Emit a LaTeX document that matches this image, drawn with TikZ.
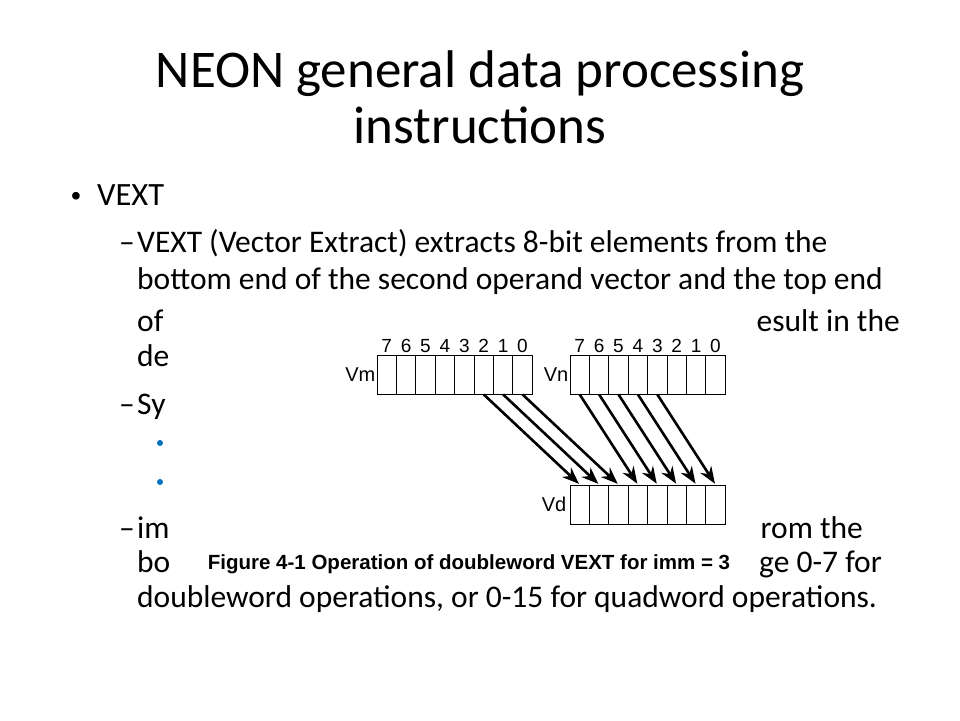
\documentclass[tikz,border=0pt]{standalone}
\usepackage{fontspec}
\setmainfont{Carlito}
\newfontfamily\figfont{Liberation Sans}
\usetikzlibrary{positioning,arrows.meta}
\definecolor{bulletblue}{RGB}{0,112,192}

\begin{document}
\begin{tikzpicture}[x=1pt,y=-1pt,
  titletext/.style={font=\fontsize{53}{56}\selectfont,align=center},
  bodytext/.style={font=\fontsize{31.5}{34}\selectfont,anchor=base west,inner sep=0pt},
  endtext/.style={font=\fontsize{31.5}{34}\selectfont,anchor=base east,inner sep=0pt},
  cell/.style={draw,minimum width=19.4pt,minimum height=39pt,inner sep=0pt,line width=0.9pt},
  digit/.style={font=\figfont\fontsize{19}{19}\selectfont,anchor=base,inner sep=0pt},
  reglabel/.style={font=\figfont\fontsize{20}{20}\selectfont,inner sep=0pt},
  moveto/.style={-{Stealth[length=17pt,width=13pt]},line width=2.6pt,shorten >=1pt}]

  \useasboundingbox (0,0) rectangle (960,720);

  % title
  \node[titletext] (title) at (480,97) {NEON general data processing\\instructions};

  % bullets
  \node[bodytext] (dot1) at (71,205) {\fontsize{28}{28}\selectfont\figfont •};
  \node[bodytext,font=\fontsize{32.5}{34}\selectfont] (vext) at (97,205) {VEXT};
  \node[bodytext] (dash1) at (119,252) {–};
  \node[bodytext] (l1) at (137,252) {VEXT (Vector Extract) extracts 8-bit elements from the};
  \node[bodytext] (l2) at (137,289) {bottom end of the second operand vector and the top end};
  \node[bodytext] (l3) at (137,331) {of};
  \node[endtext] (l3r) at (900,331) {\hspace*{-2pt}esult in the};
  \node[bodytext] (l4) at (137,366) {de};
  \node[bodytext] (dash2) at (119,414) {–};
  \node[bodytext] (l5) at (137,414) {Sy};
  \fill[bulletblue] (160,443) circle (3pt) (160,482) circle (3pt);
  \node[bodytext] (dash3) at (119,538) {–};
  \node[bodytext] (l6) at (137,538) {im};
  \node[endtext] (l6r) at (863,538) {rom the};
  \node[bodytext] (l7) at (137,572) {bo};
  \node[endtext] (l7r) at (882,572) {ge 0-7 for};
  \node[bodytext] (l8) at (137,607) {doubleword operations, or 0-15 for quadword operations.};

  % registers
  \foreach \i in {0,...,7} {
    \node[cell] (m\i) at ({377+(7-\i)*19.4+9.7},374.5) {};
    \node[cell] (n\i) at ({570+(7-\i)*19.4+9.7},374.5) {};
    \node[cell] (d\i) at ({570+(7-\i)*19.4+9.7},504.5) {};
    \node[digit] at ({377+(7-\i)*19.4+9.7},352) {\i};
    \node[digit] at ({570+(7-\i)*19.4+9.7},352) {\i};
  }
  \node[reglabel,left=1pt of m7] (vm) {Vm};
  \node[reglabel,left=1pt of n7] (vn) {Vn};
  \node[reglabel,left=3pt of d7] (vd) {Vd};

  % extract arrows
  \draw[moveto] (m2.south) -- (d7.north);
  \draw[moveto] (m1.south) -- (d6.north);
  \draw[moveto] (m0.south) -- (d5.north);
  \foreach \s/\t in {7/4,6/3,5/2,4/1,3/0}
    \draw[moveto] (n\s.south) -- (d\t.north);

  \node[font=\figfont\bfseries\fontsize{20.5}{21}\selectfont,anchor=base] (caption) at (469,569)
    {Figure 4-1 Operation of doubleword VEXT for imm = 3};
\end{tikzpicture}
\end{document}
